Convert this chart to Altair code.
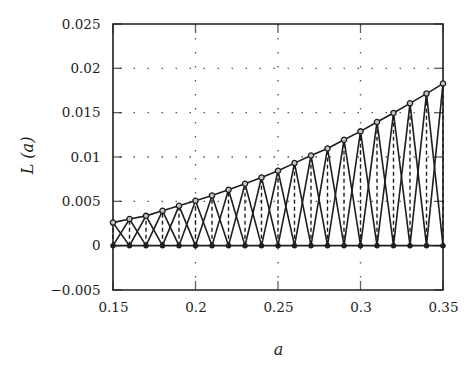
import altair as alt
import pandas as pd

# data
a_vals = [0.15, 0.16, 0.17, 0.18, 0.19, 0.20, 0.21, 0.22, 0.23, 0.24, 0.25,
          0.26, 0.27, 0.28, 0.29, 0.30, 0.31, 0.32, 0.33, 0.34, 0.35]
L_vals = [0.0026, 0.0030, 0.00336, 0.00393, 0.00449, 0.00506, 0.00565, 0.0063,
          0.00698, 0.00769, 0.00845, 0.00931, 0.01017, 0.01096, 0.01195, 0.01289,
          0.01395, 0.01496, 0.01605, 0.01715, 0.01828]
x_ticks = [0.15, 0.2, 0.25, 0.3, 0.35]
y_ticks = [-0.005, 0, 0.005, 0.01, 0.015, 0.02, 0.025]
x_grid = [0.2, 0.25, 0.3]
y_grid = [0.005, 0.01, 0.015, 0.02]

W, H = 330, 266
INK = "#1e1e1e"
FONT = "DejaVu Serif"

pts = pd.DataFrame({"a": a_vals, "L": L_vals, "zero": [0.0] * len(a_vals)})

zig_rows = []
for i, (a, L) in enumerate(zip(a_vals, L_vals)):
    zig_rows.append({"a": a, "v": L if i % 2 == 0 else 0.0, "s": "A"})
    zig_rows.append({"a": a, "v": 0.0 if i % 2 == 0 else L, "s": "B"})
zig = pd.DataFrame(zig_rows)

xs = alt.Scale(domain=[0.15, 0.35], nice=False, zero=False)
ys = alt.Scale(domain=[-0.005, 0.025], nice=False, zero=False)

xax = alt.Axis(values=x_ticks, format="~g", grid=False, tickSize=0, labelPadding=10,
               labelFlush=False, labelFont=FONT, labelFontSize=13.5,
               domain=False, title="a", titleFontStyle="italic",
               titleFontWeight="normal", titleFontSize=16, titleFont=FONT,
               titleY=59, titleBaseline="middle")
yax = alt.Axis(values=y_ticks, format="~g", grid=False, tickSize=0, labelPadding=13,
               labelFlush=False, labelFont=FONT, labelFontSize=13.5,
               domain=False, title="L (a)", titleFontStyle="italic",
               titleFontWeight="normal", titleFontSize=16, titleFont=FONT,
               titleX=-86, titleY=131, titleAngle=270, titleBaseline="middle",
               titleAlign="center")

base = alt.Chart(pts)

axes_layer = base.mark_point(opacity=0).encode(
    x=alt.X("a:Q", scale=xs, axis=xax),
    y=alt.Y("L:Q", scale=ys, axis=yax),
)

xg = pd.DataFrame({"t": x_grid})
yg = pd.DataFrame({"t": y_grid})
grid_x = alt.Chart(xg).mark_rule(color="#555", strokeWidth=1.3, strokeDash=[1.5, 12.5]).encode(
    x="t:Q")
grid_y = alt.Chart(yg).mark_rule(color="#555", strokeWidth=1.3, strokeDash=[1.5, 12.5]).encode(
    y="t:Q")

dashes = base.mark_rule(color=INK, strokeWidth=1.4, strokeDash=[4, 3]).encode(
    x="a:Q", y="zero:Q", y2="L:Q")

zig_lines = alt.Chart(zig).mark_line(color=INK, strokeWidth=1.6).encode(
    x="a:Q", y="v:Q", detail="s:N", order="a:Q")

upper_line = base.mark_line(color=INK, strokeWidth=1.6).encode(x="a:Q", y="L:Q")
zero_line = base.mark_line(color=INK, strokeWidth=1.6).encode(x="a:Q", y="zero:Q")

upper_pts = base.mark_point(shape="circle", filled=True, fill="#c4c4c4",
                            stroke=INK, strokeWidth=1.3, size=28, opacity=1).encode(
    x="a:Q", y="L:Q")
zero_pts = base.mark_point(shape="circle", filled=True, color=INK, size=30,
                           opacity=1).encode(x="a:Q", y="zero:Q")

xt = pd.DataFrame({"t": x_ticks})
yt = pd.DataFrame({"t": y_ticks})
tick_bottom = alt.Chart(xt).mark_tick(color=INK, size=9, thickness=1.3, yOffset=-4.5).encode(
    x="t:Q", y=alt.value(H))
tick_top = alt.Chart(xt).mark_tick(color=INK, size=9, thickness=1.3, yOffset=4.5).encode(
    x="t:Q", y=alt.value(0))
tick_left = alt.Chart(yt).mark_tick(color=INK, size=9, thickness=1.3, xOffset=4.5).encode(
    y="t:Q", x=alt.value(0))
tick_right = alt.Chart(yt).mark_tick(color=INK, size=9, thickness=1.3, xOffset=-4.5).encode(
    y="t:Q", x=alt.value(W))

chart = alt.layer(
    axes_layer, grid_x, grid_y, dashes, zig_lines, upper_line, zero_line,
    upper_pts, zero_pts, tick_bottom, tick_top, tick_left, tick_right,
).properties(
    width=W, height=H,
    autosize=alt.AutoSizeParams(type="none"),
    padding={"left": 113, "top": 24, "right": 31, "bottom": 81},
    background="white",
).configure_view(
    stroke=INK, strokeWidth=1.6,
).configure_axis(
    labelColor="#222", titleColor="#222", labelFlush=False,
)

chart.save("out.html", embed_options={"renderer": "svg", "actions": False})
